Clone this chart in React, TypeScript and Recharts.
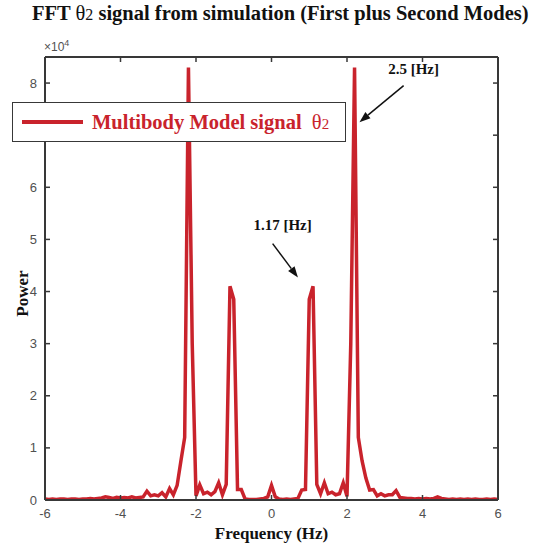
import React from "react";
import { LineChart, Line, XAxis, YAxis, Legend, ReferenceLine, Label } from "recharts";

// FFT frequency grid (Hz) and power (x 10^4)
const freqHz = [
  -6.0, -5.9, -5.8, -5.7, -5.6, -5.5, -5.4, -5.3, -5.2, -5.1,
  -5.0, -4.9, -4.8, -4.7, -4.6, -4.5, -4.4, -4.3, -4.2, -4.1,
  -4.0, -3.9, -3.8, -3.7, -3.6, -3.5, -3.4, -3.3, -3.2, -3.1,
  -3.0, -2.9, -2.8, -2.7, -2.6, -2.5, -2.4, -2.3, -2.2, -2.1,
  -2.0, -1.9, -1.8, -1.7, -1.6, -1.5, -1.4, -1.3, -1.2, -1.1,
  -1.0, -0.9, -0.8, -0.7, -0.6, -0.5, -0.4, -0.3, -0.2, -0.1,
  0.0, 0.1, 0.2, 0.3, 0.4, 0.5, 0.6, 0.7, 0.8, 0.9,
  1.0, 1.1, 1.2, 1.3, 1.4, 1.5, 1.6, 1.7, 1.8, 1.9,
  2.0, 2.1, 2.2, 2.3, 2.4, 2.5, 2.6, 2.7, 2.8, 2.9,
  3.0, 3.1, 3.2, 3.3, 3.4, 3.5, 3.6, 3.7, 3.8, 3.9,
  4.0, 4.1, 4.2, 4.3, 4.4, 4.5, 4.6, 4.7, 4.8, 4.9,
  5.0, 5.1, 5.2, 5.3, 5.4, 5.5, 5.6, 5.7, 5.8, 5.9, 6.0,
];

const powerE4 = [
  0.02, 0.01, 0.02, 0.01, 0.02, 0.02, 0.01, 0.02, 0.02, 0.01,
  0.02, 0.02, 0.03, 0.02, 0.03, 0.04, 0.06, 0.05, 0.03, 0.05,
  0.04, 0.05, 0.04, 0.06, 0.04, 0.05, 0.06, 0.17, 0.08, 0.1,
  0.08, 0.14, 0.06, 0.22, 0.1, 0.28, 0.75, 1.2, 8.3, 3.0,
  0.08, 0.29, 0.12, 0.15, 0.1, 0.16, 0.33, 0.1, 0.3, 4.1,
  3.85, 0.2, 0.2, 0.02, 0.01, 0.01, 0.01, 0.02, 0.03, 0.06,
  0.28, 0.06, 0.02, 0.01, 0.02, 0.01, 0.02, 0.03, 0.19, 0.2,
  3.85, 4.1, 0.3, 0.12, 0.33, 0.12, 0.15, 0.1, 0.12, 0.33,
  0.07, 3.0, 8.3, 1.2, 0.75, 0.42, 0.19, 0.2, 0.08, 0.12,
  0.08, 0.1, 0.1, 0.18, 0.05, 0.04, 0.03, 0.03, 0.02, 0.03,
  0.02, 0.03, 0.02, 0.03, 0.06, 0.03, 0.02, 0.01, 0.02, 0.01,
  0.02, 0.01, 0.02, 0.01, 0.02, 0.01, 0.01, 0.02, 0.01, 0.02, 0.01,
];

const xTicks = [-6, -4, -2, 0, 2, 4, 6];
const yTicks = [0, 1, 2, 3, 4, 5, 6, 7, 8];

const seriesName = "Multibody Model signal";

const annotations = [
  { text: "2.5 [Hz]", from: { x: 3.5, y: 7.95 }, to: { x: 2.33, y: 7.25 }, dx: 10, dy: -12 },
  { text: "1.17 [Hz]", from: { x: 0.03, y: 4.92 }, to: { x: 0.7, y: 4.27 }, dx: 10, dy: -14 },
];

const data = freqHz.map((f, i) => ({ f, p: powerE4[i] }));

const RED = "#c9232c";
const AXIS = "#383838";
const TICK_TEXT = "#505050";
const SERIF = "'Times New Roman', 'Liberation Serif', serif";
const SANS = "Arial, 'Liberation Sans', Helvetica, sans-serif";

function BottomTick({ x, y, payload }: any) {
  return (
    <g>
      <line x1={x} y1={y} x2={x} y2={y - 5} stroke={AXIS} strokeWidth={1.5} />
      <text x={x} y={y + 18} textAnchor="middle" fill={TICK_TEXT} fontSize={13} fontFamily={SANS}>
        {payload.value}
      </text>
    </g>
  );
}

function LeftTick({ x, y, payload }: any) {
  return (
    <g>
      <line x1={x} y1={y} x2={x + 5} y2={y} stroke={AXIS} strokeWidth={1.5} />
      <text x={x - 8} y={y + 4.5} textAnchor="end" fill={TICK_TEXT} fontSize={13} fontFamily={SANS}>
        {payload.value}
      </text>
    </g>
  );
}

function TopTick({ x, y }: any) {
  return <line x1={x} y1={y} x2={x} y2={y + 5} stroke={AXIS} strokeWidth={1.5} />;
}

function RightTick({ x, y }: any) {
  return <line x1={x} y1={y} x2={x - 5} y2={y} stroke={AXIS} strokeWidth={1.5} />;
}

function arrowShape(a: (typeof annotations)[number]) {
  return (props: any) => {
    const { x1, y1, x2, y2 } = props;
    const ang = Math.atan2(y2 - y1, x2 - x1);
    const len = 11;
    const half = 4;
    const bx = x2 - len * Math.cos(ang);
    const by = y2 - len * Math.sin(ang);
    const px = -Math.sin(ang) * half;
    const py = Math.cos(ang) * half;
    return (
      <g>
        <line x1={x1} y1={y1} x2={bx} y2={by} stroke="#111" strokeWidth={1.5} />
        <polygon points={`${x2},${y2} ${bx + px},${by + py} ${bx - px},${by - py}`} fill="#111" />
        <text
          x={x1 + a.dx}
          y={y1 + a.dy}
          textAnchor="middle"
          fontFamily={SERIF}
          fontWeight="bold"
          fontSize={15}
          fill="#111"
        >
          {a.text}
        </text>
      </g>
    );
  };
}

function LegendBox() {
  return (
    <div
      style={{
        boxSizing: "border-box",
        width: 334,
        height: 40,
        background: "#fff",
        border: `1.5px solid ${AXIS}`,
        display: "flex",
        alignItems: "center",
      }}
    >
      <span style={{ display: "inline-block", width: 61, height: 4, background: RED, marginLeft: 9 }} />
      <span
        style={{
          marginLeft: 9,
          fontFamily: SERIF,
          fontWeight: "bold",
          fontSize: 20.5,
          color: RED,
          whiteSpace: "nowrap",
        }}
      >
        {seriesName}&nbsp;&nbsp;
        <span style={{ fontWeight: 400 }}>
          θ<span style={{ fontSize: 15 }}>2</span>
        </span>
      </span>
    </div>
  );
}

export default function App() {
  return (
    <div style={{ position: "absolute", left: 0, top: 0, width: 543, height: 550, background: "#fff" }}>
      <div
        style={{
          position: "absolute",
          left: 32,
          top: 2,
          fontFamily: SERIF,
          fontWeight: "bold",
          fontSize: 20.5,
          color: "#111",
          whiteSpace: "nowrap",
        }}
      >
        FFT <span style={{ fontWeight: 400 }}>θ<span style={{ fontSize: 16 }}>2</span></span> signal from simulation
        (First plus Second Modes)
      </div>
      <div
        style={{ position: "absolute", left: 44, top: 38, fontFamily: SANS, fontSize: 12, color: TICK_TEXT }}
      >
        ×10<sup style={{ fontSize: 9 }}>4</sup>
      </div>
      <LineChart width={543} height={550} data={data} margin={{ top: 56, right: 44, bottom: 0, left: 0 }}>
        <XAxis
          dataKey="f"
          type="number"
          domain={[-6, 6]}
          ticks={xTicks}
          height={50}
          tickSize={0}
          tickMargin={0}
          tick={<BottomTick />}
          axisLine={{ stroke: AXIS, strokeWidth: 2 }}
          tickLine={false}
          allowDataOverflow
        >
          <Label
            content={({ viewBox }: any) => (
              <text
                x={viewBox.x + viewBox.width / 2}
                y={viewBox.y + 39}
                textAnchor="middle"
                fontFamily={SERIF}
                fontWeight="bold"
                fontSize={17}
                fill="#111"
              >
                Frequency (Hz)
              </text>
            )}
          />
        </XAxis>
        <XAxis
          xAxisId="top"
          dataKey="f"
          orientation="top"
          type="number"
          domain={[-6, 6]}
          ticks={xTicks}
          height={1}
          tickSize={0}
          tickMargin={0}
          tick={<TopTick />}
          axisLine={{ stroke: AXIS, strokeWidth: 2 }}
          tickLine={false}
          allowDataOverflow
        />
        <YAxis
          type="number"
          domain={[0, 8.5]}
          ticks={yTicks}
          width={45}
          tickSize={0}
          tickMargin={0}
          tick={<LeftTick />}
          axisLine={{ stroke: AXIS, strokeWidth: 2 }}
          tickLine={false}
          allowDataOverflow
        >
          <Label
            content={({ viewBox }: any) => {
              const cx = viewBox.x + 22;
              const cy = viewBox.y + viewBox.height / 2 + 15;
              return (
                <text
                  x={cx}
                  y={cy}
                  transform={`rotate(-90, ${cx}, ${cy})`}
                  textAnchor="middle"
                  dominantBaseline="central"
                  fontFamily={SERIF}
                  fontWeight="bold"
                  fontSize={17}
                  fill="#111"
                >
                  Power
                </text>
              );
            }}
          />
        </YAxis>
        <YAxis
          yAxisId="right"
          orientation="right"
          type="number"
          domain={[0, 8.5]}
          ticks={yTicks}
          width={1}
          tickSize={0}
          tickMargin={0}
          tick={<RightTick />}
          axisLine={{ stroke: AXIS, strokeWidth: 2 }}
          tickLine={false}
          allowDataOverflow
        />
        {/* invisible copy bound to the mirrored axes so they get a domain and draw the box */}
        <Line
          xAxisId="top"
          yAxisId="right"
          dataKey="p"
          stroke="none"
          legendType="none"
          dot={false}
          activeDot={false}
          isAnimationActive={false}
        />
        <Line
          type="linear"
          dataKey="p"
          name={seriesName}
          stroke={RED}
          strokeWidth={3.5}
          dot={false}
          isAnimationActive={false}
        />
        {annotations.map((a) => (
          <ReferenceLine
            key={a.text}
            segment={[a.from, a.to]}
            ifOverflow="visible"
            shape={arrowShape(a)}
          />
        ))}
        <Legend
          layout="horizontal"
          verticalAlign="middle"
          align="center"
          content={() => <LegendBox />}
          wrapperStyle={{ left: 12, top: 102, width: 334, height: 40 }}
        />
      </LineChart>
    </div>
  );
}
